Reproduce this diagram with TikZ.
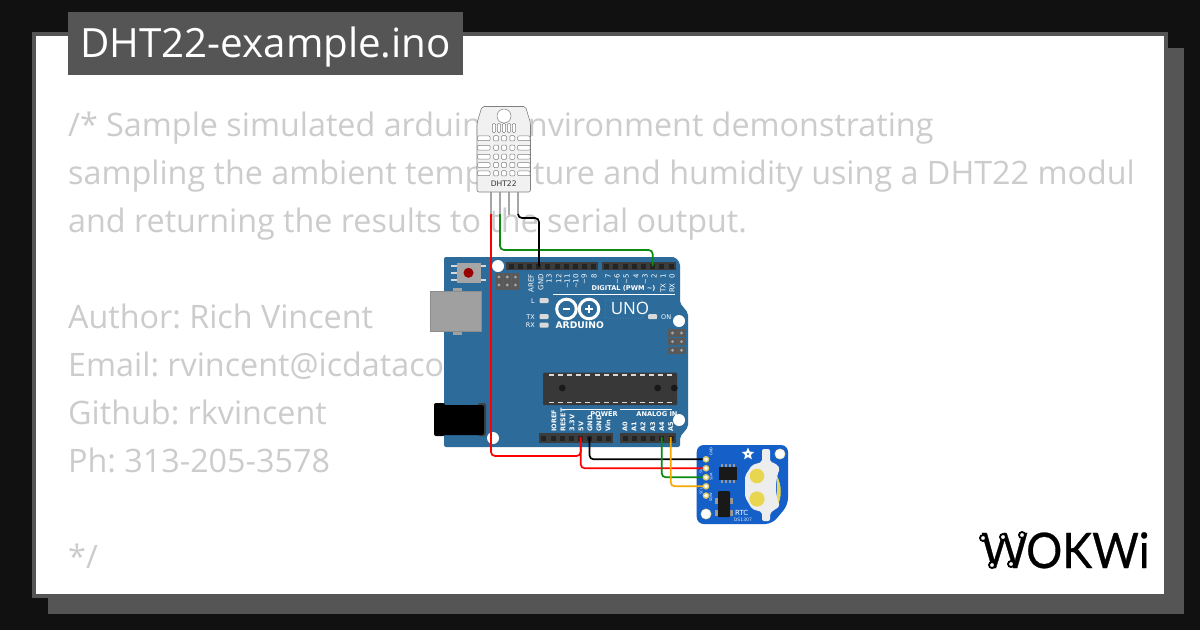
\documentclass[tikz,border=0pt]{standalone}
\usepackage{fontspec}
\usetikzlibrary{shapes.geometric}
\setmainfont{Open Sans}
\newfontfamily\labelfont{DejaVu Sans}
\newfontfamily\logofont[FakeStretch=0.92,FakeBold=0.6]{Lato}
\frenchspacing
\definecolor{pagebg}{HTML}{111111}
\definecolor{panelgray}{HTML}{555555}
\definecolor{codegray}{HTML}{CCCCCC}
\definecolor{unoblue}{HTML}{2C6B9A}
\definecolor{rtcblue}{HTML}{1560C8}
\definecolor{headerdark}{HTML}{3C3C3C}
\definecolor{holedark}{HTML}{242424}
\definecolor{bodygray}{HTML}{F1F1F1}
\definecolor{slotgray}{HTML}{808080}
\definecolor{usbgray}{HTML}{A0A0A0}
\definecolor{ringgold}{HTML}{DCC76B}
\definecolor{padyellow}{HTML}{E8D650}
\definecolor{wiregreen}{HTML}{0B8A12}
\definecolor{wireorange}{HTML}{F5A800}
\begin{document}
\begin{tikzpicture}[x=1pt,y=-1pt,
		codeline/.style={anchor=base west,inner sep=0pt,text=codegray,font=\fontsize{32.3}{32.3}\selectfont},
		toplabel/.style={rotate=90,anchor=east,inner sep=0pt,text=white,font=\labelfont\fontsize{7}{7}\selectfont},
		botlabel/.style={rotate=90,anchor=west,inner sep=0pt,text=white,font=\labelfont\bfseries\fontsize{6.5}{6.5}\selectfont},
		sidelabel/.style={inner sep=0pt,text=white,font=\labelfont\fontsize{6.5}{6.5}\selectfont},
		headtext/.style={inner sep=0pt,text=white,font=\labelfont\bfseries\fontsize{6.6}{6.6}\selectfont},
		rtclabel/.style={rotate=90,inner sep=0pt,text=white,font=\labelfont\fontsize{3.5}{3.5}\selectfont},
		header/.style={fill=headerdark},
		hole/.style={fill=holedark},
		ledsmd/.style={fill=white!85!black,rounded corners=1pt},
		wire/.style={line width=1.7pt,rounded corners=4pt}]
	\useasboundingbox (0,0) rectangle (1200,630);
	%background and panel
	\fill[pagebg] (0,0) rectangle (1200,630);
	\fill[panelgray] (48,48) rectangle (1184,614);
	\fill[panelgray] (32,32) rectangle (1168,598);
	\fill[white] (36,36) rectangle (1164,594);
	\fill[panelgray] (68,12) rectangle (463,75);
	\node[anchor=base west,inner sep=0pt,text=white,font=\fontsize{40.3}{40.3}\selectfont] (title) at (80,57.5) {DHT22-example.ino};
	%code text
	\foreach \ypos/\codetext [count=\i] in {136/{/* Sample simulated arduino environment demonstrating},
			184/{sampling the ambient temperature and humidity using a DHT22 modul},
			232/{and returning the results to the serial output.},
			328/{Author: Rich Vincent},
			376/{Email: rvincent@icdataco},
			424/{Github: rkvincent},
			472/{Ph: 313-205-3578},
			568/{*/}}
		\node[codeline] (code\i) at (68,\ypos) {\codetext};
	%logo
	\node[anchor=base west,inner sep=0pt,font=\logofont\fontsize{49}{49}\selectfont] (logow) at (981,568) {W};
	\node[anchor=base west,inner sep=0pt,font=\logofont\fontsize{49}{49}\selectfont] (logotext) at (1026,568) {OKWi};
	\foreach \dotx/\doty in {983/538,1003/537,1022/535,992/565,1011/564}
		\draw[line width=1.8pt,fill=white] (\dotx,\doty) circle (3);

	%uno board
	\fill[unoblue,rounded corners=2pt] (444,257) -- (675,257) -- (680,263) -- (680,303) -- (688,313) -- (688,427) -- (680,437) -- (680,447) -- (444,447) -- cycle;
	\fill[usbgray] (453,288) rectangle (462,292);
	\fill[usbgray] (453,331) rectangle (462,335);
	\draw[fill=usbgray,draw=black!45] (430,291.5) rectangle (481.5,331.5);
	\fill[black!75,rounded corners=2pt] (478,403) rectangle (486,436);
	\fill[black,rounded corners=2pt] (434,403) rectangle (445,436);
	\fill[black,rounded corners=2pt] (440,405) rectangle (484,435);
	\foreach \holex/\holey in {498/266,493/438,679/321,679/420}
		\fill[white] (\holex,\holey) circle (6);
	%reset button
	\foreach \legy in {265.7,272.5,279.5}
		\fill[white!85!black] (451,\legy-1) rectangle (458,\legy+1);
	\foreach \legy in {265.7,279.5}
		\fill[white!85!black] (480,\legy-1) rectangle (486,\legy+1);
	\fill[white!65!black] (457,263) rectangle (481,283);
	\fill[red!60!black] (468.5,272.8) circle (5);
	%headers
	\fill[header] (506,262) rectangle (598,270);
	\fill[header] (602,262) rectangle (676,270);
	\fill[header] (539,433) rectangle (612.7,443);
	\fill[header] (620,433) rectangle (676,443);
	\foreach \i in {0,...,9}
		\fill[hole] (511+9.2*\i-2.5,263.5) rectangle (511+9.2*\i+2.5,268.5);
	\foreach \i in {0,...,7}{
		\fill[hole] (606.6+9.2*\i-2.5,263.5) rectangle (606.6+9.2*\i+2.5,268.5);
		\fill[hole] (543.9+9.2*\i-2.5,435.5) rectangle (543.9+9.2*\i+2.5,440.5);
	}
	\foreach \i in {0,...,5}
		\fill[hole] (625+9.2*\i-2.5,435.5) rectangle (625+9.2*\i+2.5,440.5);
	%icsp blocks
	\foreach \i in {0,1,2}{
		\fill[headerdark!85!white] (499+8.2*\i-3.5,273) rectangle (499+8.2*\i+3.5,289.5);
		\fill[white!65!black] (499+8.2*\i,277) circle (1.6);
		\fill[white!65!black] (499+8.2*\i,285) circle (1.6);
	}
	\foreach \i in {0,1,2}{
		\fill[headerdark!85!white] (668,333+8.6*\i-3.7) rectangle (686,333+8.6*\i+3.7);
		\fill[white!65!black] (672.5,333+8.6*\i) circle (1.6);
		\fill[white!65!black] (681.5,333+8.6*\i) circle (1.6);
	}
	%digital labels
	\foreach \pinlabel/\labelx [count=\i] in {AREF/531,GND/540.7,13/549,12/558.7,\textasciitilde11/567,\textasciitilde10/575.7,\textasciitilde9/584,8/594,7/608,\textasciitilde6/617,\textasciitilde5/626,4/636,\textasciitilde3/645,2/654,1/663,0/672}
		\node[toplabel] (dlabel\i) at (\labelx,274) {\pinlabel};
	\node[toplabel] (txlabel) at (663,283) {TX};
	\node[toplabel] (rxlabel) at (672,283) {RX};
	\node[headtext] (digitalhead) at (623.5,288.5) {DIGITAL (PWM \textasciitilde)};
	\draw[white,line width=0.6pt] (553,294.5) -- (675,294.5);
	%leds
	\foreach \ledname/\ledx/\ledy in {ledl/544/300.7,ledtx/544/316.7,ledrx/544/325,ledon/652.7/316.7}
		\fill[ledsmd] (\ledx-4.5,\ledy-2.5) rectangle (\ledx+4.5,\ledy+2.5);
	\node[sidelabel,anchor=east] (llabel) at (535,300.7) {L};
	\node[sidelabel,anchor=east] (tlabel) at (535,316.7) {TX};
	\node[sidelabel,anchor=east] (rlabel) at (535,325) {RX};
	\node[sidelabel,anchor=west] (onlabel) at (661,316.7) {ON};
	%arduino logo
	\draw[white,line width=3pt] (566.5,309) circle (9.8);
	\draw[white,line width=3pt] (589,309) circle (9.8);
	\draw[white,line width=1.6pt] (563,309) -- (570.4,309);
	\draw[white,line width=1.6pt] (585.3,309) -- (592.7,309) (589,305.3) -- (589,312.7);
	\node[inner sep=0pt,text=white,font=\labelfont\bfseries\fontsize{9.2}{9.2}\selectfont] (arduinotext) at (579.7,325.5) {ARDUINO};
	\draw[unoblue!70!white,rounded corners=2pt,densely dotted,line width=0.5pt] (605,299) rectangle (643,318);
	\node[inner sep=0pt,text=white,font=\fontsize{17}{17}\selectfont] (unotext) at (630,308) {UNO};
	%chip
	\fill[black!78,rounded corners=1pt] (543,372.7) rectangle (677,405);
	\foreach \i in {0,...,13}{
		\fill[white!85!black] (549+9.1*\i,374.2) rectangle (554+9.1*\i,375.6);
		\fill[white!85!black] (549+9.1*\i,402) rectangle (554+9.1*\i,403.4);
	}
	\foreach \dotx in {562.3,657.7,674.3}
		\fill[black!90] (\dotx,388) circle (3.4);
	%power and analog labels
	\foreach \pinlabel/\labelx [count=\i] in {IOREF/554,RESET/563,3.3V/572,5V/581,GND/590,GND/599,Vin/608,A0/625,A1/634,A2/643,A3/652.7,A4/661.7,A5/670.7}
		\node[botlabel] (alabel\i) at (\labelx,431.7) {\pinlabel};
	\node[headtext] (powerhead) at (604,414.3) {POWER};
	\node[headtext] (analoghead) at (657,414.3) {ANALOG IN};
	\draw[white,line width=0.5pt] (563,409) -- (612,409);
	\draw[white,line width=0.5pt] (620,409) -- (672,409);

	%dht22 sensor
	\foreach \pinx in {491,500,509,518}
		\draw[black!35,line width=1.2pt] (\pinx,190) -- (\pinx,215);
	\draw[fill=bodygray,draw=slotgray,line width=0.6pt,rounded corners=2pt] (477,192) -- (477,123) -- (482,106.5) -- (525.5,106.5) -- (530.5,123) -- (530.5,192) -- cycle;
	\draw[fill=white,draw=slotgray,line width=0.5pt] (504,116) circle (7);
	\foreach \slotx in {494,499,504,509,514}
		\draw[fill=white,draw=slotgray,line width=0.5pt,rounded corners=1pt] (\slotx-1.6,123.5) rectangle (\slotx+1.6,132.5);
	\foreach \sloty in {138.3,147.7,156.7,165,173.3}{
		\draw[fill=white,draw=slotgray,line width=0.5pt,rounded corners=1pt] (477.5,\sloty-2.4) rectangle (490,\sloty+2.4);
		\draw[fill=white,draw=slotgray,line width=0.5pt,rounded corners=1pt] (517.7,\sloty-2.4) rectangle (530,\sloty+2.4);
		\foreach \slotx in {496,504,512.3}
			\draw[fill=white,draw=slotgray,line width=0.5pt,rounded corners=1pt] (\slotx-2.5,\sloty-2.6) rectangle (\slotx+2.5,\sloty+2.6);
	}
	\node[inner sep=0pt,text=black!80,font=\labelfont\fontsize{7.6}{7.6}\selectfont] (dhtlabel) at (503.7,184) {DHT22};

	%rtc board
	\fill[rtcblue,rounded corners=7pt] (696.7,445) -- (788,445) -- (788,505) -- (772,524) -- (696.7,524) -- cycle;
	\draw[fill=white,draw=ringgold!50!white,line width=0.8pt] (780,454) circle (5);
	\draw[fill=white,draw=ringgold!50!white,line width=0.8pt] (706,514) circle (5);
	%battery holder
	\fill[padyellow] (777,476) .. controls (782,485) and (782,498) .. (777,507) -- cycle;
	\fill[white!93!black,rounded corners=2pt] (762,449) -- (770,449) -- (770,462) -- (775,463) -- (780,468) .. controls (775,480) and (775,495) .. (780,506) -- (770,513) -- (770,521) -- (762,521) -- (762,512) -- (752,509) -- (745,497) -- (745,476) -- (752,465) -- (762,462) -- cycle;
	\fill[padyellow] (757,476) circle (7.3);
	\fill[padyellow] (757,499) circle (7.6);
	\node[star,star points=5,star point ratio=2.2,fill=white,minimum size=13pt,inner sep=0pt] (rtcstar) at (748,454) {};
	\fill[rtcblue] (rtcstar.center) circle (1.2);
	%rtc chips
	\foreach \legx in {722,726,730,734}
		\fill[white!60!black] (\legx-1,464) rectangle (\legx+1,483);
	\fill[black!90] (719,467) rectangle (737,480);
	\fill[white!60!black] (715,498) rectangle (733,504);
	\fill[white!60!black] (715,510) rectangle (733,516);
	\fill[black!90,rounded corners=1pt] (718,491) rectangle (730,517);
	\node[inner sep=0pt,text=white,font=\labelfont\fontsize{7}{7}\selectfont] (rtctext) at (741.7,513) {RTC};
	\node[inner sep=0pt,text=white!80!rtcblue,font=\labelfont\fontsize{4.6}{4.6}\selectfont] (dstext) at (743,520) {DS1307};
	\node[rtclabel] (rtcl1) at (711,451.5) {GND};
	\node[rtclabel] (rtcl2) at (701,471.5) {5V};
	\node[rtclabel] (rtcl3) at (711,477) {SDA};
	\node[rtclabel] (rtcl4) at (701,491) {SCL};
	\node[rtclabel] (rtcl5) at (711,497) {SQW};

	%wire ends
	\coordinate (dhtvcc) at (491,214);
	\coordinate (dhtsda) at (500,214);
	\coordinate (dhtgnd) at (518,214);
	\coordinate (unopin2) at (652.7,266);
	\coordinate (unognd) at (539,266);
	\coordinate (unofive) at (580.7,437);
	\coordinate (unopower) at (589.5,437);
	\coordinate (unoafour) at (661.7,437);
	\coordinate (unoafive) at (670.7,437);
	\coordinate (rtcgnd) at (706,459.3);
	\coordinate (rtcvcc) at (706,468.3);
	\coordinate (rtcsda) at (706,477.3);
	\coordinate (rtcscl) at (706,486.3);
	\coordinate (rtcsqw) at (706,495.6);
	%wires
	\draw[wire,wiregreen] (dhtsda) -- (dhtsda |- 0,250) -- (unopin2 |- 0,250) -- (unopin2);
	\draw[wire,black] (dhtgnd) -- (dhtgnd |- 0,218) -- (unognd |- 0,218) -- (unognd);
	\draw[wire,red] (dhtvcc) -- (dhtvcc |- 0,456) -- (unofive |- 0,456) -- (unofive);
	\draw[wire,red] (unofive) |- (rtcvcc);
	\draw[wire,black] (unopower) |- (rtcgnd);
	\draw[wire,wiregreen] (unoafour) |- (rtcsda);
	\draw[wire,wireorange] (unoafive) |- (rtcscl);
	%rtc pins
	\foreach \pinname in {rtcgnd,rtcvcc,rtcsda,rtcscl,rtcsqw}
		\draw[fill=white,draw=ringgold,line width=1.4pt] (\pinname) circle (2.6);
\end{tikzpicture}
\end{document}
